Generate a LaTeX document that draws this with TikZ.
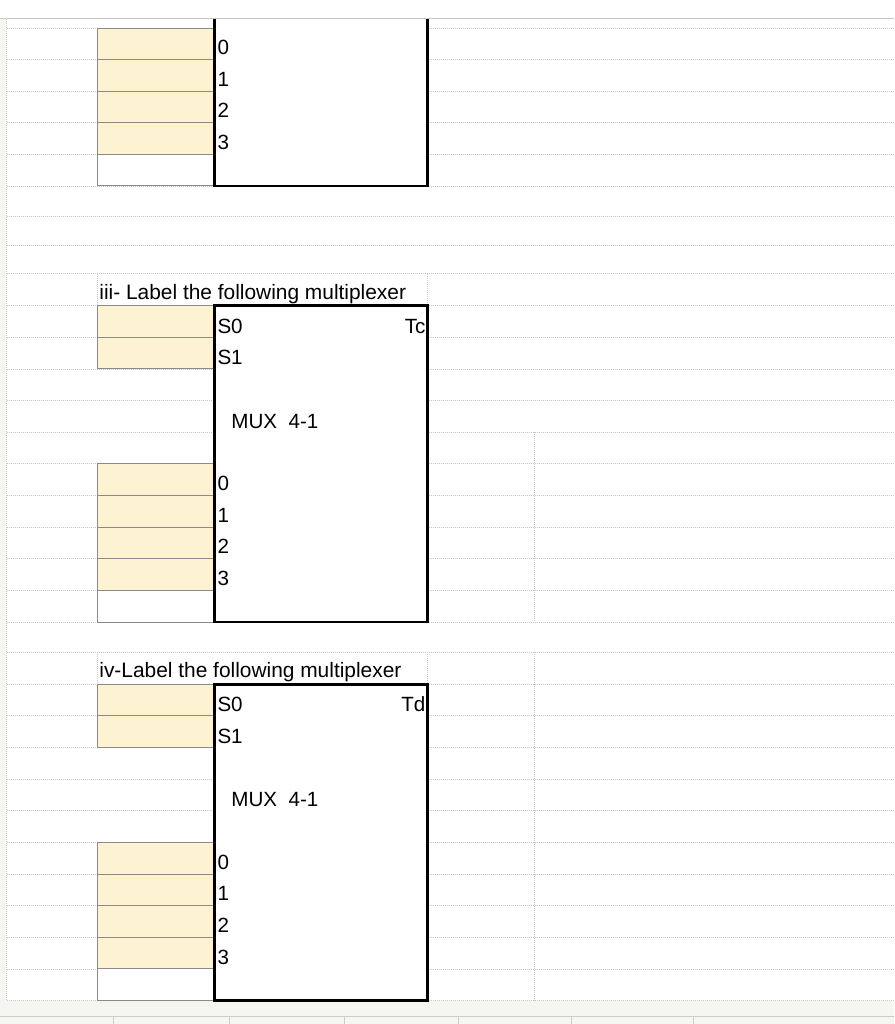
\documentclass[tikz,border=0pt]{standalone}
\usepackage{fontspec}
\setmainfont{Liberation Sans}
\definecolor{cellyellow}{RGB}{253,242,209}
\definecolor{cellborder}{RGB}{138,138,138}
\definecolor{gridgray}{RGB}{200,200,200}
\definecolor{margingray}{RGB}{245,245,242}
\definecolor{headline}{RGB}{200,200,196}
\definecolor{tabgray}{RGB}{205,205,200}
\tikzset{
  hgrid/.style={gridgray, line width=0.9pt, dash pattern=on 1pt off 1pt},
  vgrid/.style={gridgray, line width=0.9pt, dash pattern=on 1pt off 1pt},
  ycell/.style={fill=cellyellow, draw=cellborder, line width=1pt},
  wcell/.style={fill=white, draw=cellborder, line width=1pt},
  boxline/.style={draw=black, line width=2.7pt, line join=miter},
  lbl/.style={inner sep=0pt, anchor=base west, font=\fontsize{20.6}{24}\selectfont},
  ttl/.style={inner sep=0pt, anchor=base west, font=\fontsize{20.9}{24}\selectfont},
}
\newcommand\rh{31.63}
% #1 name, #2 box top, #3 title, #4 output label, #5 title row top
\newcommand\muxsec[5]{%
  \draw[vgrid] (97.6,#5) -- (97.6,#2);
  \draw[vgrid] (427.6,#5) -- (427.6,#2);
  \node[ttl] (#1-title) at (99.2,{#2-6.4}) {#3};
  \fill[white] (214.7,#2) rectangle (427.3,{#2+10*\rh});
  \foreach \k in {0,1,5,6,7,8}{
    \draw[ycell] (97.4,{#2+\k*\rh}) rectangle (214.7,{#2+(\k+1)*\rh});
  }
  \draw[wcell] (97.4,{#2+9*\rh}) rectangle (214.7,{#2+10*\rh});
  \draw[boxline] (214.7,#2) rectangle (427.3,{#2+10*\rh});
  \node[lbl] (#1-s0) at (217.3,{#2+\rh-4.3}) {S0};
  \node[lbl] (#1-s1) at (217.3,{#2+2*\rh-4.3}) {S1};
  \node[lbl, anchor=base east] (#1-out) at (425.6,{#2+\rh-4.3}) {#4};
  \node[lbl] (#1-mux) at (231.2,{#2+4*\rh-3.9}) {MUX\ \ 4-1};
  \foreach \d/\k in {0/5,1/6,2/7,3/8}{
    \node[lbl] (#1-in\d) at (217.3,{#2+(\k+1)*\rh-4.8}) {\d};
  }
}
\begin{document}
\begin{tikzpicture}[x=1pt,y=-1pt]
\useasboundingbox (0,0) rectangle (894,1024);
\fill[white] (0,0) rectangle (894,1024);
% margins and chrome
\fill[margingray] (0,19.3) rectangle (6,1001);
\fill[margingray] (0,1001) rectangle (894,1024);
\draw[headline, line width=1.3pt] (0,18.6) -- (894,18.6);
\draw[tabgray, line width=1pt] (0,1016.5) -- (894,1016.5);
\foreach \x in {113,229,344,458,571,693}{
  \draw[tabgray, line width=1pt] (\x,1017) -- (\x,1024);
}
\draw[vgrid] (6,19.3) -- (6,1001);
% horizontal grid lines
\foreach \y in {28.3,59.8,91.3,122.8,154.3,186,216,245,273.7,305.7,337.33,368.96,400.59,432.22,463.85,495.48,527.11,558.74,590.37,622,652.3,684.3,715.94,747.58,779.22,810.86,842.5,874.14,905.78,937.42,969.06,1000.7}{
  \draw[hgrid] (6.5,\y) -- (894,\y);
}
\draw[vgrid] (534,432.22) -- (534,622);
\draw[vgrid] (534,652.3) -- (534,1000.7);
% top (partial) multiplexer
\fill[white] (214.7,19.3) rectangle (427.3,186);
\foreach \t/\b in {28.3/59.8,59.8/91.3,91.3/122.8,122.8/154.3}{
  \draw[ycell] (97.4,\t) rectangle (214.7,\b);
}
\draw[wcell] (97.4,154.3) rectangle (214.7,186);
\draw[boxline] (214.7,19.3) |- (427.3,186) -- (427.3,19.3);
\foreach \d/\b in {0/59.8,1/91.3,2/122.8,3/154.3}{
  \node[lbl] (a-in\d) at (217.3,{\b-5}) {\d};
}
% iii and iv
\muxsec{c}{305.7}{iii- Label the following multiplexer}{Tc}{273.7}
\muxsec{d}{684.3}{iv-Label the following multiplexer}{Td}{652.3}
\end{tikzpicture}
\end{document}
